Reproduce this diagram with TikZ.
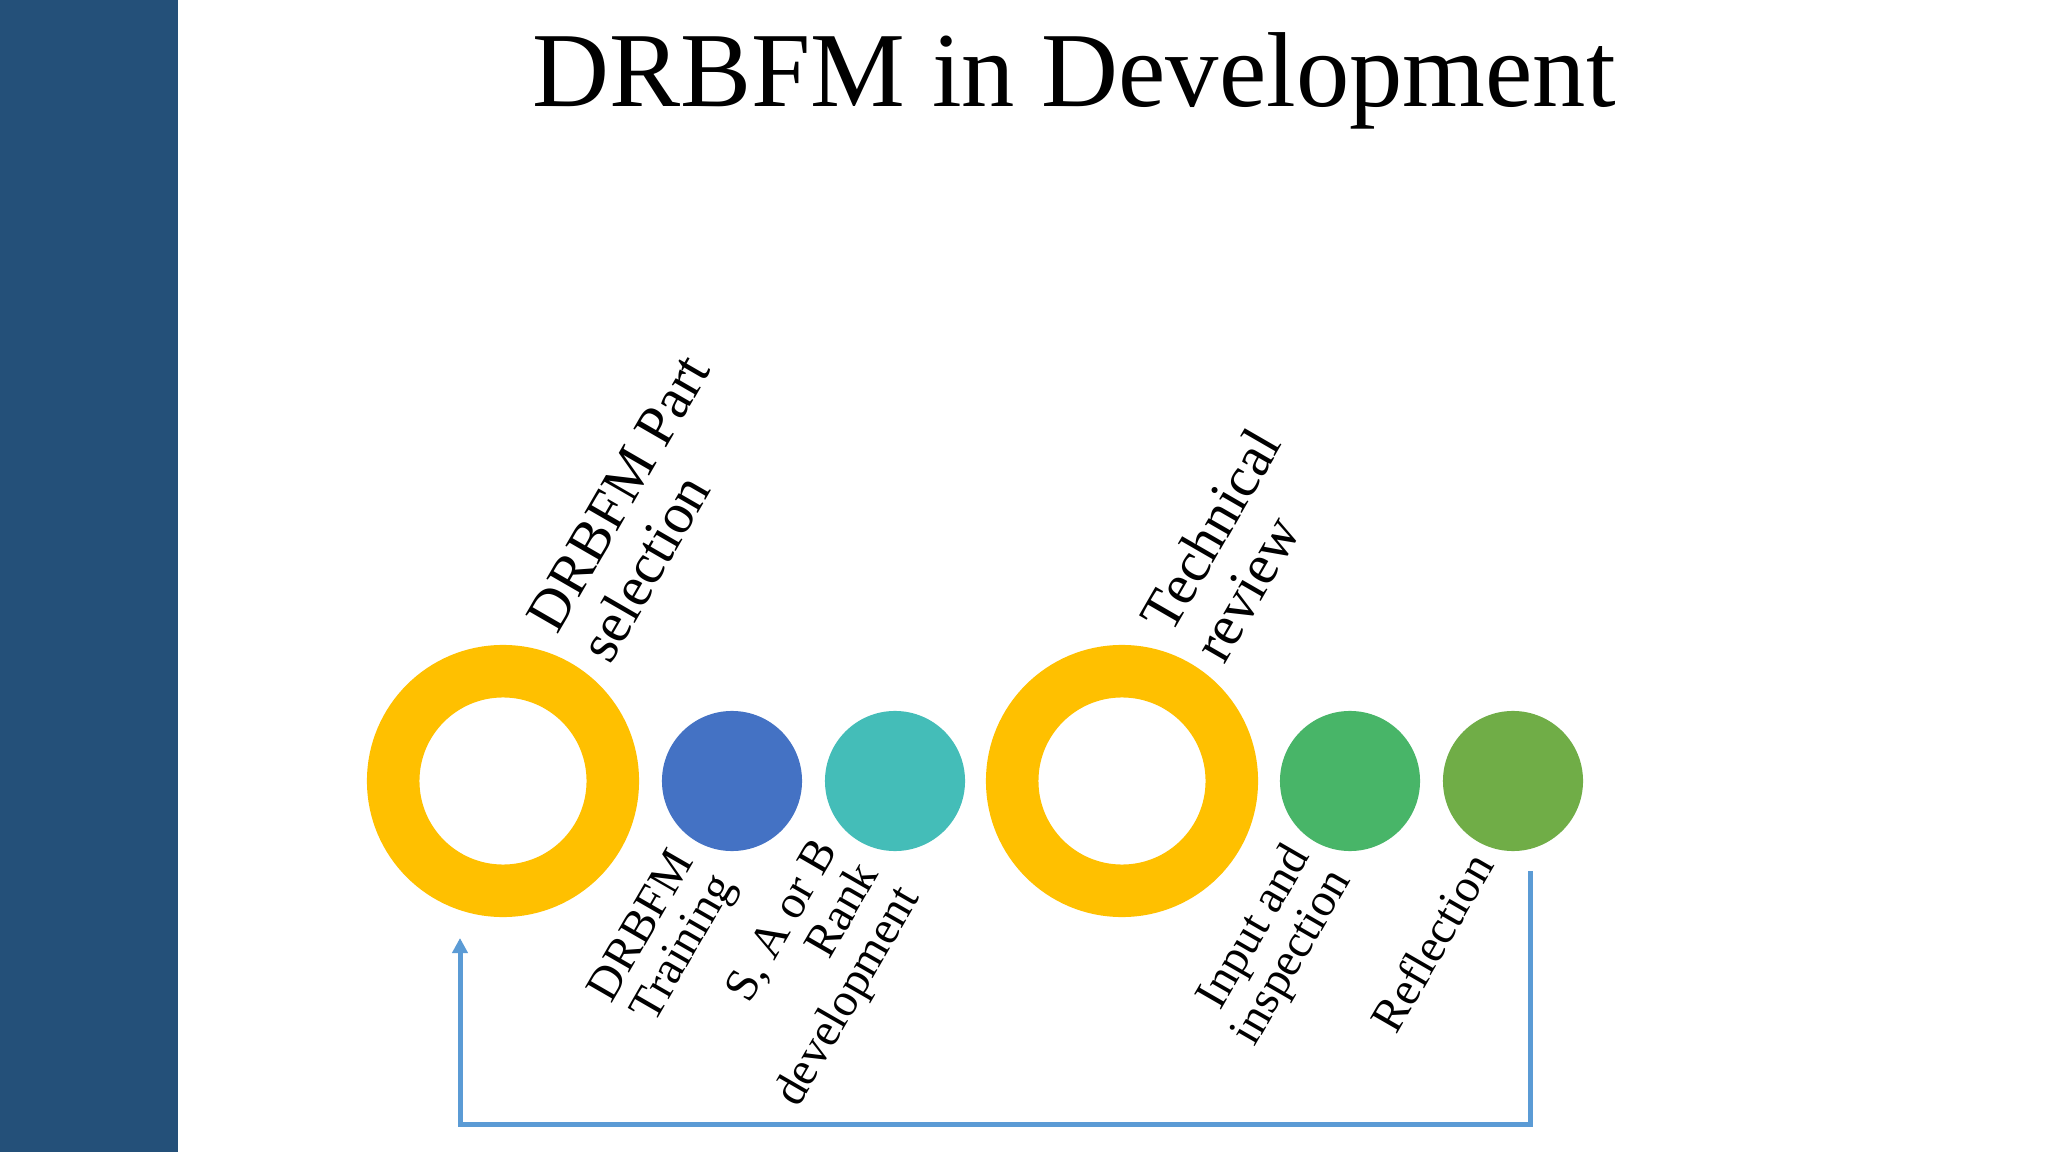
\documentclass[tikz,border=0pt]{standalone}
\usepackage{fontspec}
\setmainfont{Liberation Serif}
\usetikzlibrary{shapes,arrows.meta,positioning}

\definecolor{barblue}{HTML}{245079}
\definecolor{ringgold}{HTML}{FFC000}
\definecolor{stepblue}{HTML}{4472C4}
\definecolor{stepteal}{HTML}{44BDB8}
\definecolor{stepgreen}{HTML}{48B568}
\definecolor{stepolive}{HTML}{70AD47}
\definecolor{loopblue}{HTML}{5B9BD5}

\tikzset{
	ring/.style={shape=circle, draw=ringgold, line width=0.525cm, minimum size=2.195cm, inner sep=0pt},
	dot/.style={shape=circle, minimum size=1.40cm, inner sep=0pt},
	toplabel/.style={rotate=60, anchor=south west, align=left, inner sep=0pt, font=\fontsize{16.3}{17.2}\selectfont},
	botlabel/.style={rotate=60, anchor=north east, align=right, inner sep=0pt, font=\fontsize{13.4}{13.4}\selectfont},
	loop/.style={draw=loopblue, line width=0.05cm, -{Triangle[length=0.15cm,width=0.15cm]}}
}

\begin{document}
\begin{tikzpicture}[x=0.01cm,y=-0.01cm]
	\fill[white] (0,0) rectangle (2048,1152);
	\useasboundingbox (0,0) rectangle (2048,1152);
	\fill[barblue] (0,0) rectangle (178,1152);
	
	\node[anchor=base, inner sep=0pt, font=\fontsize{30.3}{36}\selectfont] (title) at (1074,107) {DRBFM in Development};
	
	\node[ring] (sel) at (503,781) {};
	\node[dot, fill=stepblue] (train) at (732,781) {};
	\node[dot, fill=stepteal] (rank) at (895,781) {};
	\node[ring] (review) at (1122,781) {};
	\node[dot, fill=stepgreen] (input) at (1350,781) {};
	\node[dot, fill=stepolive] (reflect) at (1513,781) {};
	
	\node[toplabel] (sellabel) at (611,667) {DRBFM Part\\selection};
	\node[toplabel] (reviewlabel) at (1225,667) {Technical\\review};
	\node[botlabel] (trainlabel) at (667,845) {DRBFM\\Training};
	\node[botlabel] (ranklabel) at (811,834) {S, A or B\\Rank\\development};
	\node[botlabel] (inputlabel) at (1282,839) {Input and\\inspection};
	\node[botlabel] (reflectlabel) at (1466,848) {Reflection};
	
	\coordinate (loopstart) at (1530,871);
	\coordinate (loopend) at (460,938);
	\draw[loop] (loopstart) -- ++(0,253) -| (loopend);
\end{tikzpicture}
\end{document}
